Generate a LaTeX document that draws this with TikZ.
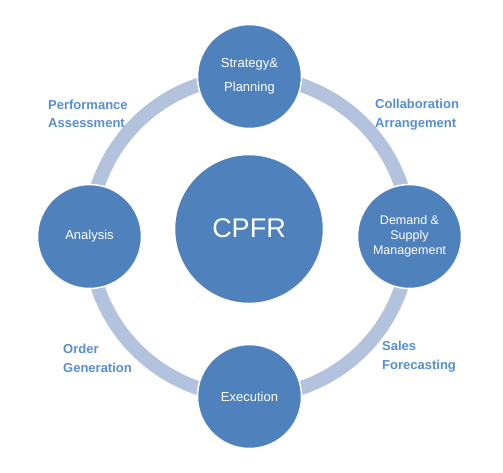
\documentclass[tikz,border=0pt]{standalone}
\usepackage{fontspec}
\setmainfont{Liberation Sans}

\definecolor{stageblue}{RGB}{79,129,189}
\definecolor{ringblue}{RGB}{179,195,222}
\definecolor{phaseblue}{RGB}{85,142,213}

\tikzset{
    stage/.style={circle, fill=stageblue, draw=white, line width=1.5pt, text=white,
        inner sep=0pt, minimum size=104pt, align=center, font=\fontsize{13}{15}\selectfont},
    phase/.style={anchor=west, align=left, inner sep=0pt, text=phaseblue,
        font=\bfseries\fontsize{13}{18.5}\selectfont}
}

\begin{document}
\begin{tikzpicture}[x=1pt, y=-1pt]
        \useasboundingbox (0, 0) rectangle (503, 472);

        \coordinate (hub) at (249.5, 236.5);
        \draw[ringblue, line width=14pt] (hub) circle (160pt);

        \node[stage, minimum size=149pt, font=\fontsize{27}{30}\selectfont] (cpfr) at (249, 229) {\raisebox{2pt}{CPFR}};

        \node[stage, font=\fontsize{13}{24}\selectfont] (plan) at (249.5, 76.5) {Strategy\&\\Planning};
        \node[stage, font=\fontsize{12.5}{15}\selectfont] (demand) at (409.5, 236.5) {Demand \&\\Supply\\Management};
        \node[stage] (exec) at (249.5, 396.5) {Execution};
        \node[stage] (analysis) at (89.5, 236.5) {Analysis};

        \node[phase] (perf) at (48, 114) {Performance\\Assessment};
        \node[phase] (collab) at (375, 114.5) {Collaboration\\Arrangement};
        \node[phase] (sales) at (382, 356.5) {Sales\\Forecasting};
        \node[phase] (order) at (63, 358.5) {Order\\Generation};
    \end{tikzpicture}
\end{document}
